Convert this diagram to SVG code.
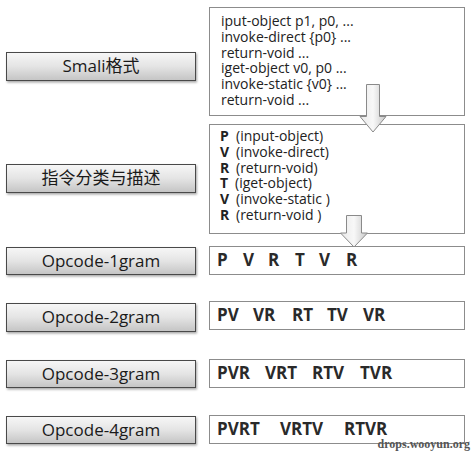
<svg xmlns="http://www.w3.org/2000/svg" width="474" height="453" viewBox="0 0 474 453">
<defs>
<linearGradient id="btn" x1="0" y1="0" x2="0" y2="1">
<stop offset="0" stop-color="#f7f7f7"/>
<stop offset="0.5" stop-color="#e4e4e4"/>
<stop offset="1" stop-color="#c4c4c4"/>
</linearGradient>
<linearGradient id="arr" x1="0" y1="0" x2="1" y2="0">
<stop offset="0" stop-color="#e8e8e8"/>
<stop offset="0.5" stop-color="#f8f8f8"/>
<stop offset="1" stop-color="#c8c8c8"/>
</linearGradient>
<filter id="sh" x="-5%" y="-20%" width="110%" height="150%">
<feDropShadow dx="1" dy="1.5" stdDeviation="1" flood-color="#000" flood-opacity="0.35"/>
</filter>
</defs>
<style>
.btn{fill:url(#btn);stroke:#4a4a4a;stroke-width:1;filter:url(#sh)}
.bl{font-family:"Open Sans","Noto Sans","Noto Sans CJK SC",sans-serif;font-size:17px;fill:#1a1a1a;text-anchor:middle}
.box{fill:#fff;stroke:#8c8c8c;stroke-width:1}
.code{font-family:"Open Sans","Noto Sans",sans-serif;font-size:14px;fill:#222}
.gram{font-family:"Open Sans","Noto Sans",sans-serif;font-size:17px;font-weight:bold;fill:#2a2a2a}
.b{font-weight:bold}
.arrow{fill:url(#arr);stroke:#8a8a8a;stroke-width:1}
</style>
<rect width="474" height="453" fill="#fff"/>
<g id="n-smali"><rect class="btn" x="6.5" y="52.5" width="189" height="28"/><text class="bl" x="101" y="72">Smali格式</text></g>
<g id="n-desc"><rect class="btn" x="6.5" y="164.5" width="189" height="28"/><text class="bl" x="101" y="184">指令分类与描述</text></g>
<g id="n-1gram"><rect class="btn" x="6.5" y="247.5" width="189" height="27"/><text class="bl" x="101" y="266.5">Opcode-1gram</text></g>
<g id="n-2gram"><rect class="btn" x="6.5" y="303.5" width="189" height="28"/><text class="bl" x="101" y="323">Opcode-2gram</text></g>
<g id="n-3gram"><rect class="btn" x="6.5" y="360.5" width="189" height="27"/><text class="bl" x="101" y="379.5">Opcode-3gram</text></g>
<g id="n-4gram"><rect class="btn" x="6.5" y="416.5" width="189" height="27"/><text class="bl" x="101" y="435.5">Opcode-4gram</text></g>
<g id="b-smali"><rect class="box" x="209.5" y="7.5" width="255" height="108"/>
<text class="code" x="221" y="26">iput-object p1, p0, ...</text>
<text class="code" x="221" y="42">invoke-direct {p0} ...</text>
<text class="code" x="221" y="57.5">return-void ...</text>
<text class="code" x="221" y="73">iget-object v0, p0 ...</text>
<text class="code" x="221" y="89">invoke-static {v0} ...</text>
<text class="code" x="221" y="105">return-void ...</text>
</g>
<g id="b-desc"><rect class="box" x="209.5" y="124.5" width="255" height="109"/>
<text class="code b" x="220" y="141">P</text><text class="code" x="236" y="141">(input-object)</text>
<text class="code b" x="220" y="157">V</text><text class="code" x="236" y="157">(invoke-direct)</text>
<text class="code b" x="220" y="172.5">R</text><text class="code" x="236" y="172.5">(return-void)</text>
<text class="code b" x="220" y="188">T</text><text class="code" x="235" y="188">(iget-object)</text>
<text class="code b" x="220" y="204">V</text><text class="code" x="236" y="204">(invoke-static )</text>
<text class="code b" x="220" y="220">R</text><text class="code" x="236" y="220">(return-void )</text>
</g>
<g id="b-1gram"><rect class="box" x="209.5" y="246.5" width="255" height="28"/>
<text class="gram" x="217" y="266">P</text><text class="gram" x="243" y="266">V</text><text class="gram" x="268" y="266">R</text><text class="gram" x="295" y="266">T</text><text class="gram" x="319" y="266">V</text><text class="gram" x="346" y="266">R</text></g>
<g id="b-2gram"><rect class="box" x="209.5" y="301.5" width="255" height="28"/>
<text class="gram" x="217" y="321">PV</text><text class="gram" x="253" y="321">VR</text><text class="gram" x="292" y="321">RT</text><text class="gram" x="327" y="321">TV</text><text class="gram" x="363" y="321">VR</text></g>
<g id="b-3gram"><rect class="box" x="209.5" y="359.5" width="255" height="28"/>
<text class="gram" x="217" y="379">PVR</text><text class="gram" x="265" y="379">VRT</text><text class="gram" x="312" y="379">RTV</text><text class="gram" x="360" y="379">TVR</text></g>
<g id="b-4gram"><rect class="box" x="209.5" y="415.5" width="255" height="28"/>
<text class="gram" x="217" y="435">PVRT</text><text class="gram" x="280" y="435">VRTV</text><text class="gram" x="344" y="435">RTVR</text></g>
<g id="connectors">
<path class="arrow" d="M366.5,84.5 H379.5 V116.5 H386 L373,132 L360,116.5 H366.5 Z"/>
<path class="arrow" d="M346.5,215.5 H361.5 V233 H367.5 L354,247 L340.5,233 H346.5 Z"/>
</g>
<text x="470" y="448" text-anchor="end" font-family="Liberation Serif,serif" font-size="12" font-weight="bold" fill="#555">drops.wooyun.org</text>
</svg>
